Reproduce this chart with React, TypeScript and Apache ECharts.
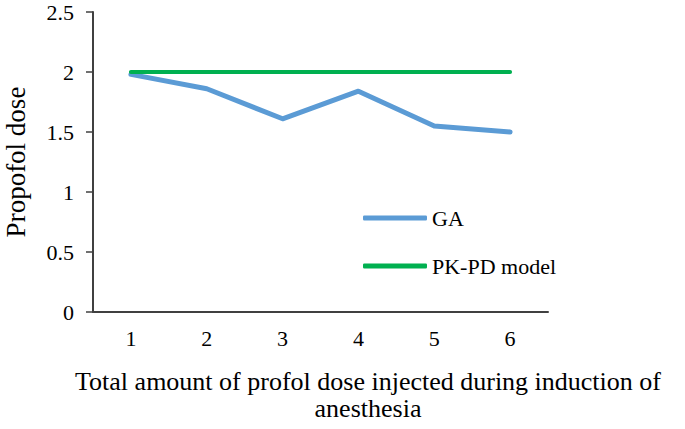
import React, { useEffect, useRef } from "react";
import * as echarts from "echarts";

const categories = ["1", "2", "3", "4", "5", "6"];
const gaValues = [1.98, 1.86, 1.61, 1.84, 1.55, 1.5];
const pkpdValues = [2, 2, 2, 2, 2, 2];
const yTicks = { min: 0, max: 2.5, interval: 0.5 };
const xTitle = "Total amount of profol dose injected during induction of\nanesthesia";
const yTitle = "Propofol dose";

const FONT = "'Liberation Serif', 'Times New Roman', serif";

export default function App() {
  const ref = useRef<HTMLDivElement>(null);
  useEffect(() => {
    if (!ref.current) return;
    const chart = echarts.init(ref.current, null, { renderer: "svg" });
    chart.setOption({
      animation: false,
      backgroundColor: "#ffffff",
      grid: { left: 93, right: 137, top: 12, bottom: 117, containLabel: false },
      legend: {
        orient: "vertical",
        left: 358,
        top: 202,
        itemWidth: 64,
        itemHeight: 5,
        itemGap: 26,
        icon: "roundRect",
        textStyle: { fontFamily: FONT, fontSize: 22, color: "#000" },
        data: ["GA", "PK-PD model"],
      },
      xAxis: {
        type: "category",
        data: categories,
        boundaryGap: true,
        axisLine: { lineStyle: { color: "#404040", width: 2 } },
        axisTick: { show: false },
        axisLabel: { fontFamily: FONT, fontSize: 22, color: "#000", margin: 15 },
      },
      yAxis: {
        type: "value",
        min: yTicks.min,
        max: yTicks.max,
        interval: yTicks.interval,
        splitLine: { show: false },
        axisLine: { show: true, lineStyle: { color: "#404040", width: 2 } },
        axisTick: { show: true, inside: false, length: 7, lineStyle: { color: "#404040", width: 1.5 } },
        axisLabel: { fontFamily: FONT, fontSize: 22, color: "#000", margin: 19 },
      },
      series: [
        {
          name: "GA",
          type: "line",
          data: gaValues,
          symbol: "none",
          color: "#5B9BD5",
          lineStyle: { width: 5, color: "#5B9BD5", cap: "round", join: "round" },
        },
        {
          name: "PK-PD model",
          type: "line",
          data: pkpdValues,
          symbol: "none",
          color: "#00B050",
          lineStyle: { width: 4, color: "#00B050", cap: "round" },
        },
      ],
      graphic: [
        {
          type: "text",
          x: 368,
          y: 368,
          style: {
            text: xTitle,
            fontFamily: FONT,
            fontSize: 26,
            fill: "#000",
            textAlign: "center",
            textVerticalAlign: "top",
            lineHeight: 27,
          },
        },
        {
          type: "text",
          x: 16,
          y: 162,
          rotation: Math.PI / 2,
          style: {
            text: yTitle,
            fontFamily: FONT,
            fontSize: 27,
            fill: "#000",
            textAlign: "center",
            textVerticalAlign: "middle",
          },
        },
      ],
    });
    return () => chart.dispose();
  }, []);
  return (
    <div
      ref={ref}
      style={{ position: "fixed", left: 0, top: 0, width: 685, height: 429 }}
    />
  );
}
